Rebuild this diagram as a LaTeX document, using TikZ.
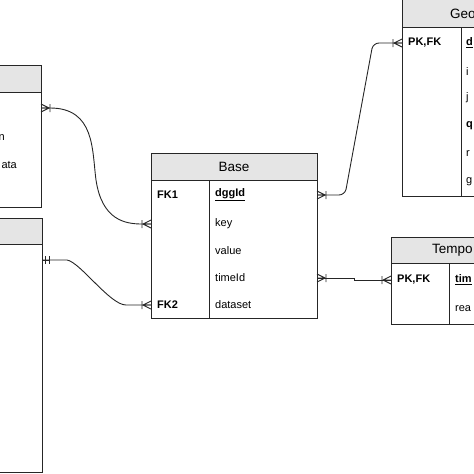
\documentclass[tikz,border=0pt]{standalone}
\usepackage{fontspec}
\setmainfont{Liberation Sans}
\begin{document}
\begin{tikzpicture}[x=1pt,y=-1pt,
  ent/.style={draw=black!85,line width=1pt},
  hdr/.style={draw=black!85,line width=1pt,fill=black!10},
  row/.style={anchor=west,font=\fontsize{11}{13}\selectfont,inner sep=0pt},
  key/.style={anchor=west,font=\bfseries\fontsize{11}{13}\selectfont,inner sep=0pt},
  ttl/.style={font=\fontsize{13.5}{15}\selectfont,inner sep=0pt},
  con/.style={draw=black!85,line width=0.9pt},
  crow/.pic={\draw[black!85,line width=0.9pt] (8,0)--(0,4) (8,0)--(0,-4) (8,0)--(0,0) (9,-4)--(9,4);},
  one/.pic={\draw[black!85,line width=0.9pt] (3,-4)--(3,4) (7,-4)--(7,4) (0,0)--(8,0);}]
\useasboundingbox (0,0) rectangle (474,474);
% left top table
\draw[hdr] (-5,65) rectangle (41,92);
\draw[ent] (-5,92) rectangle (41,207);
\node[row,anchor=east] (lt1) at (5,138) {n};
\node[row,anchor=east] (lt2) at (17,165) {ata};
% left bottom table
\draw[hdr] (-5,218) rectangle (42,244);
\draw[ent] (-5,244) rectangle (42,472);
% Base
\draw[hdr] (151,153) rectangle (317,180);
\draw[ent] (151,180) rectangle (317,318);
\draw[ent] (209,180) -- (209,318);
\node[ttl] (bt) at (234,167) {Base};
\node[key] (fk1) at (157,195) {FK1};
\node[key] (fk2) at (157,305) {FK2};
\node[row,font=\bfseries\fontsize{11}{13}\selectfont] (b1) at (215,195) {\underline{dggId}};
\node[row] (b2) at (215,224) {key};
\node[row] (b3) at (215,251) {value};
\node[row] (b4) at (215,278) {timeId};
\node[row] (b5) at (215,305) {dataset};
% Geo
\draw[hdr] (402,-2) rectangle (480,27);
\draw[ent] (402,27) rectangle (480,196);
\draw[ent] (461,27) -- (461,196);
\node[ttl,anchor=west] (gt) at (450,14) {Geo};
\node[key] (gk) at (408,43) {PK,FK};
\node[row,font=\bfseries\fontsize{11}{13}\selectfont] (g1) at (466,43) {\underline{d}};
\node[row] (g2) at (466,72) {i};
\node[row] (g3) at (466,98) {j};
\node[row,font=\bfseries\fontsize{11}{13}\selectfont] (g4) at (466,126) {q};
\node[row] (g5) at (466,154) {r};
\node[row] (g6) at (466,182) {g};
% Temporal
\draw[hdr] (391,237) rectangle (480,263);
\draw[ent] (391,263) rectangle (480,324);
\draw[ent] (449,263) -- (449,324);
\node[ttl,anchor=west] (tt) at (432,250) {Tempo};
\node[key] (tk) at (397,280) {PK,FK};
\node[row,font=\bfseries\fontsize{11}{13}\selectfont] (t1) at (455,280) {\underline{tim}};
\node[row] (t2) at (455,309) {rea};
% anchor coordinates
\coordinate (a1) at (41,108); \coordinate (a2) at (151,224);
\coordinate (c1) at (42,260); \coordinate (c2) at (151,305);
\coordinate (d1) at (317,195); \coordinate (d2) at (402,43);
\coordinate (e1) at (317,278); \coordinate (e2) at (391,280);
% connectors
\draw[con] (a1) -- ++(9,0) .. controls (95,108) and (92,150) .. (96,180) .. controls (102,220) and (125,224) .. ([xshift=-9]a2) -- (a2);
\pic at (a1) {crow};
\pic[rotate=180] at (a2) {crow};
\draw[con] (c1) -- ++(25,0) .. controls (80,262) and (110,305) .. ([xshift=-25]c2) -- (c2);
\pic at (c1) {one};
\pic[rotate=180] at (c2) {crow};
\draw[con,rounded corners=6pt] (d1) -- (345,195) -- (373,43) -- (d2);
\pic at (d1) {crow};
\pic[rotate=180] at (d2) {crow};
\draw[con] (e1) -- (354,278) -- (354,280) -- (e2);
\pic at (e1) {crow};
\pic[rotate=180] at (e2) {crow};
\end{tikzpicture}
\end{document}
